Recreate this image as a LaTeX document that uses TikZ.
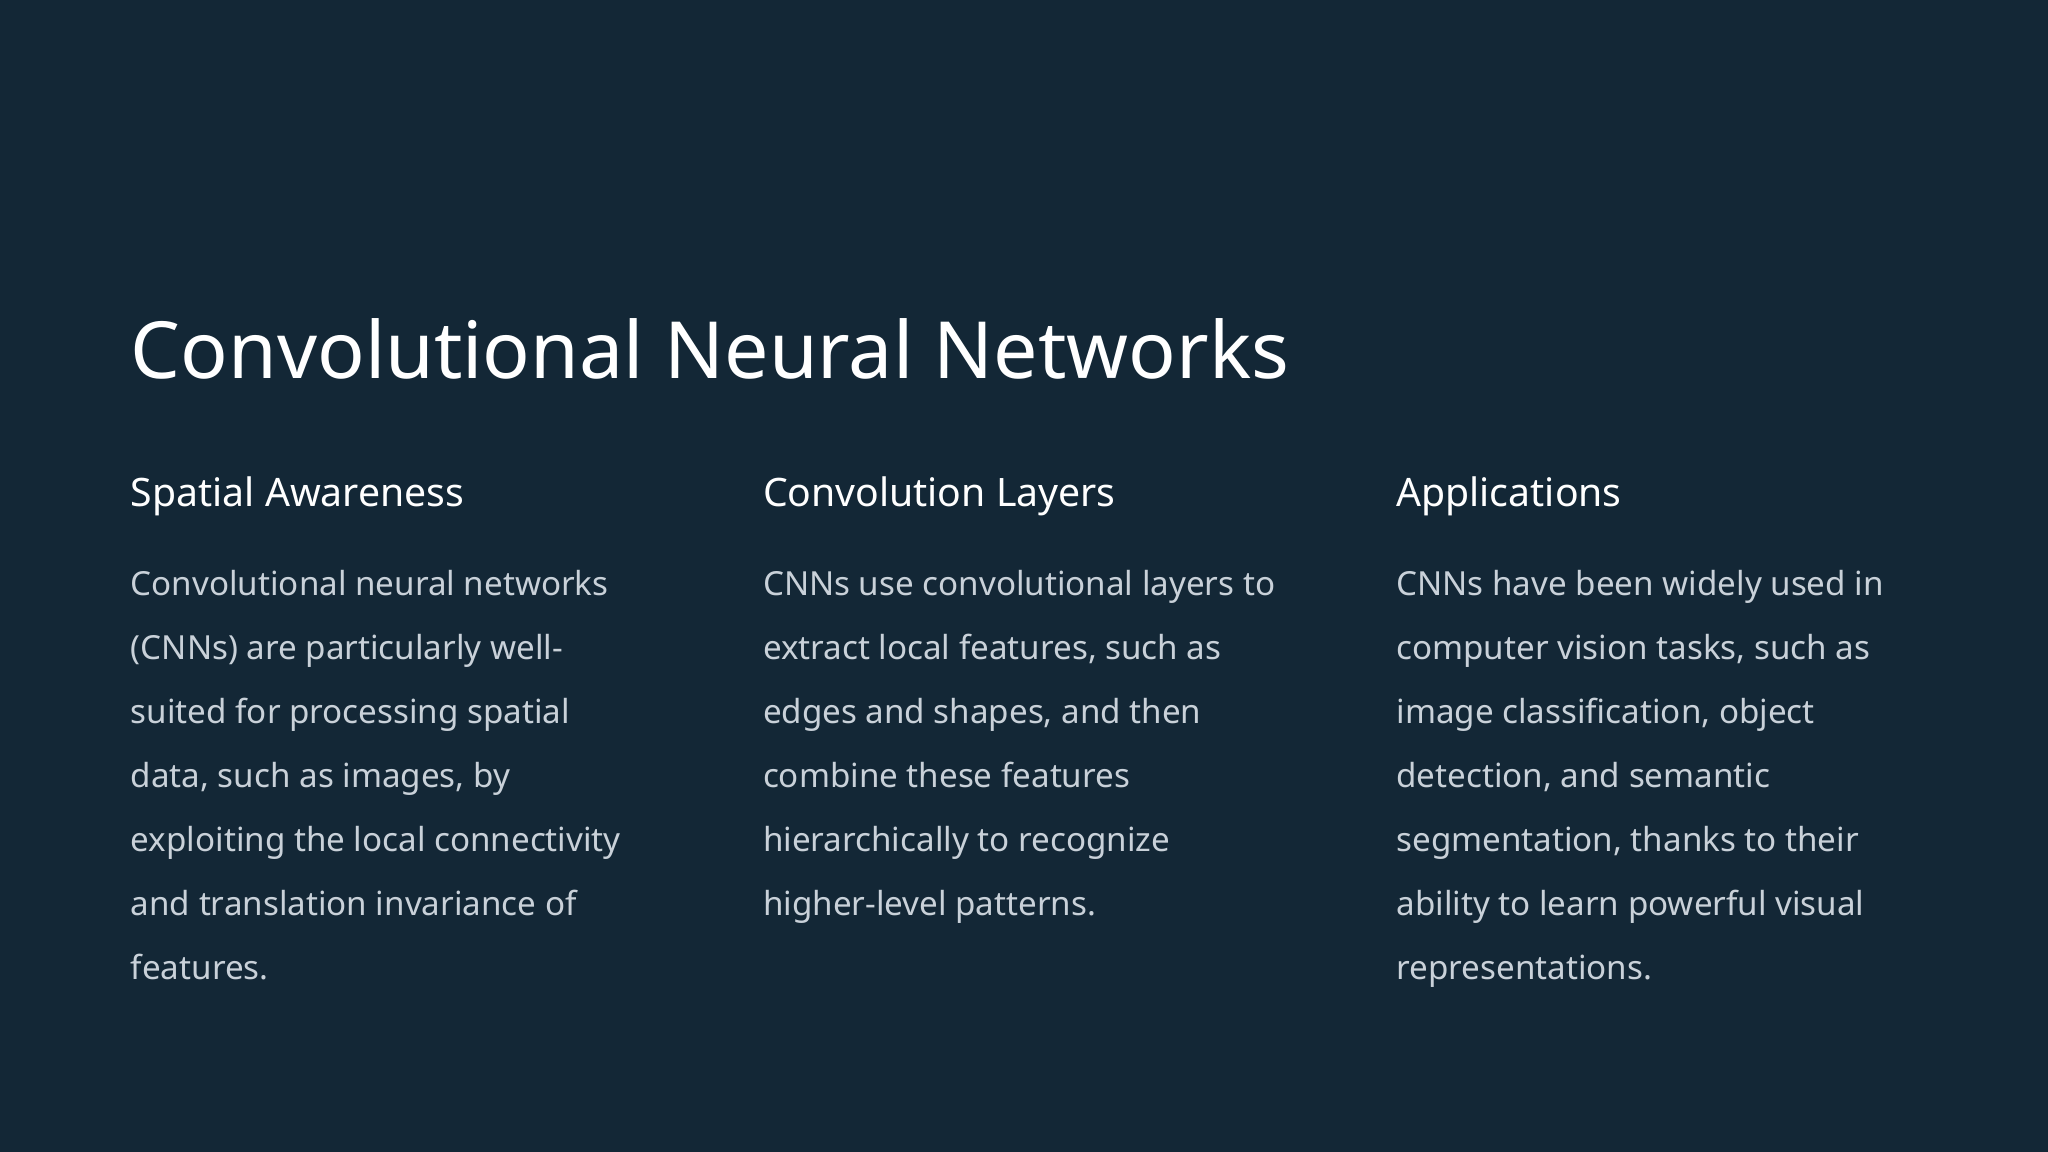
\documentclass[tikz,border=0pt]{standalone}
\usepackage{fontspec}
\setmainfont{Noto Sans}
\definecolor{bg}{HTML}{132736}
\definecolor{body}{HTML}{C9D1D9}
\begin{document}
\begin{tikzpicture}[x=1pt,y=-1pt,
  ttl/.style={anchor=base west,inner sep=0,text=white,font=\fontsize{60.4}{62}\selectfont},
  head/.style={anchor=base west,inner sep=0,text=white,font=\fontsize{30}{34}\selectfont},
  para/.style={anchor=base west,inner sep=0,text=body,align=left,font=\fontsize{25.4}{49}\selectfont}]
\fill[bg] (0,0) rectangle (1568,882);
\useasboundingbox (0,0) rectangle (1568,882);
\node[ttl] (t) at (100,290) {Convolutional Neural Networks};
\node[head] (h1) at (100,388) {Spatial Awareness};
\node[head] (h2) at (584,388) {Convolution Layers};
\node[head] (h3) at (1069,388) {Applications};
\node[para] (p1) at (100,750) {Convolutional neural networks\\(CNNs) are particularly well-\\suited for processing spatial\\data, such as images, by\\exploiting the local connectivity\\and translation invariance of\\features.};
\node[para] (p2) at (584,701) {CNNs use convolutional layers to\\extract local features, such as\\edges and shapes, and then\\combine these features\\hierarchically to recognize\\higher-level patterns.};
\node[para] (p3) at (1069,750) {CNNs have been widely used in\\computer vision tasks, such as\\image classification, object\\detection, and semantic\\segmentation, thanks to their\\ability to learn powerful visual\\representations.};
\end{tikzpicture}
\end{document}
